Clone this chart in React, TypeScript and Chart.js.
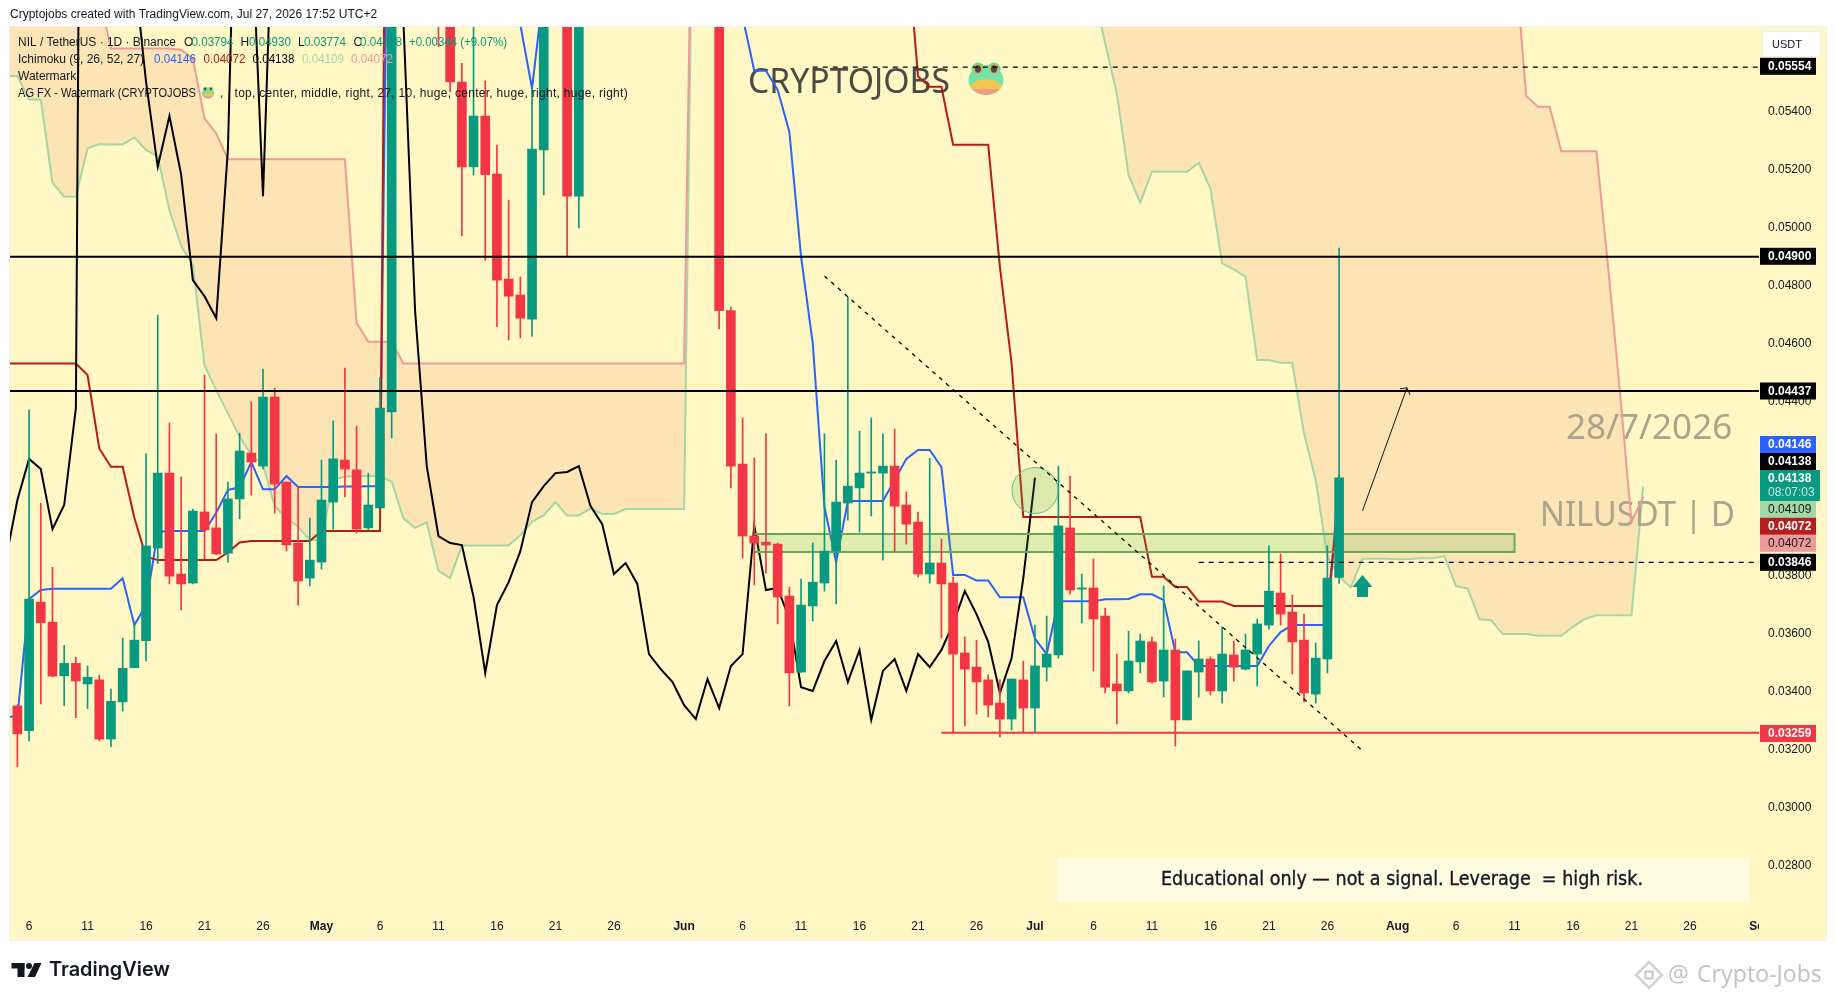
import React, { useEffect, useRef } from "react";
import { Chart, registerables } from "chart.js";

Chart.register(...registerables);

// ---- Candles, day 0 = Apr 5 ----
const opens = [
  0.03351,0.03266,0.03709,0.03640,0.03455,0.03498,0.03427,0.03441,0.03237,0.03365,
  0.03483,0.03576,0.03896,0.04154,0.03806,0.03775,0.04020,0.03965,0.03878,0.04065,
  0.04223,0.04178,0.04416,0.04123,0.03913,0.03792,0.03847,0.04054,0.04199,0.04165,
  0.03965,0.04034,0.04365,0.10500,0.09000,0.07500,0.06500,0.05883,0.05502,0.05210,
  0.05385,0.05185,0.04823,0.04768,0.04685,0.05268,0.06819,0.06072,0.05109,0.06314,
  0.06500,0.06800,0.07000,0.07200,0.07000,0.06800,0.06600,0.06400,0.06200,0.06000,
  0.05750,0.04714,0.04185,0.03937,0.03916,0.03909,0.03730,0.03468,0.03696,0.03775,
  0.03885,0.04051,0.04103,0.04154,0.04154,0.04178,0.04044,0.03985,0.03806,0.03844,
  0.03775,0.03534,0.03485,0.03441,0.03361,0.03306,0.03441,0.03344,0.03485,0.03527,
  0.03965,0.03754,0.03758,0.03661,0.03427,0.03403,0.03503,0.03572,0.03437,0.03544,
  0.03303,0.03468,0.03513,0.03403,0.03527,0.03478,0.03530,0.03630,0.03740,0.03675,
  0.03578,0.03392,0.03513,0.03794,
];
const highs = [
  0.03355,0.04372,0.04050,0.03829,0.03560,0.03520,0.03489,0.03457,0.03409,0.03585,
  0.03636,0.04220,0.04699,0.04327,0.04140,0.04030,0.04492,0.04289,0.04123,0.04292,
  0.04399,0.04513,0.04447,0.04123,0.04107,0.03999,0.04199,0.04334,0.04516,0.04316,
  0.04154,0.04484,0.11500,0.11000,0.09500,0.07800,0.06700,0.06000,0.05567,0.05750,
  0.05506,0.05285,0.05095,0.04830,0.05480,0.07000,0.06900,0.06150,0.06500,0.06700,
  0.06900,0.07200,0.07400,0.07300,0.07100,0.06900,0.06700,0.06500,0.06300,0.06100,
  0.05800,0.04726,0.04344,0.04206,0.04289,0.03913,0.03761,0.03789,0.03913,0.04289,
  0.04199,0.04761,0.04299,0.04344,0.04289,0.04306,0.04089,0.04020,0.04205,0.03927,
  0.03796,0.03589,0.03578,0.03458,0.03441,0.03444,0.03506,0.03630,0.03661,0.04178,
  0.04144,0.03806,0.03858,0.03689,0.03530,0.03609,0.03599,0.03589,0.03765,0.03582,
  0.03472,0.03575,0.03521,0.03624,0.03575,0.03599,0.03651,0.03903,0.03875,0.03734,
  0.03668,0.03568,0.03903,0.04930,
];
const lows = [
  0.03142,0.03231,0.03358,0.03451,0.03352,0.03311,0.03342,0.03231,0.03211,0.03334,
  0.03483,0.03506,0.03842,0.03772,0.03682,0.03772,0.03857,0.03872,0.03847,0.03996,
  0.04078,0.04168,0.04016,0.03885,0.03699,0.03765,0.03823,0.03961,0.04072,0.03947,
  0.03958,0.04034,0.04275,0.08500,0.07200,0.06300,0.05624,0.05469,0.04972,0.05182,
  0.04888,0.04659,0.04613,0.04620,0.04626,0.05113,0.05900,0.04900,0.04999,0.06200,
  0.06400,0.06700,0.06900,0.06900,0.06700,0.06500,0.06300,0.06100,0.05900,0.05700,
  0.04651,0.04103,0.03861,0.03768,0.03809,0.03634,0.03351,0.03468,0.03644,0.03747,
  0.03703,0.03992,0.03951,0.04006,0.03854,0.03885,0.03909,0.03796,0.03775,0.03585,
  0.03259,0.03282,0.03323,0.03313,0.03244,0.03268,0.03259,0.03259,0.03437,0.03516,
  0.03737,0.03637,0.03472,0.03396,0.03289,0.03396,0.03465,0.03430,0.03382,0.03213,
  0.03303,0.03382,0.03389,0.03361,0.03437,0.03475,0.03420,0.03616,0.03630,0.03461,
  0.03365,0.03361,0.03465,0.03774,
];
const closes = [
  0.03255,0.03720,0.03638,0.03454,0.03498,0.03437,0.03450,0.03237,0.03367,0.03481,
  0.03578,0.03903,0.04154,0.03799,0.03772,0.04023,0.03958,0.03875,0.04065,0.04230,
  0.04192,0.04416,0.04116,0.03906,0.03782,0.03854,0.04061,0.04203,0.04168,0.03961,
  0.04044,0.04378,0.10500,0.09000,0.07500,0.06500,0.05883,0.05503,0.05210,0.05385,
  0.05183,0.04819,0.04764,0.04688,0.05271,0.06819,0.06072,0.05109,0.06314,0.06500,
  0.06800,0.07000,0.07200,0.07000,0.06800,0.06600,0.06400,0.06200,0.06000,0.05716,
  0.04714,0.04178,0.03937,0.03913,0.03906,0.03727,0.03465,0.03699,0.03778,0.03885,
  0.04054,0.04109,0.04154,0.04158,0.04178,0.04040,0.03978,0.03806,0.03844,0.03772,
  0.03530,0.03478,0.03434,0.03354,0.03306,0.03444,0.03344,0.03489,0.03530,0.03972,
  0.03751,0.03758,0.03651,0.03416,0.03403,0.03506,0.03575,0.03434,0.03544,0.03303,
  0.03472,0.03513,0.03403,0.03530,0.03485,0.03544,0.03634,0.03747,0.03668,0.03572,
  0.03396,0.03516,0.03792,0.04138,
];

// ---- Ichimoku, all series begin on day -1 ----
const conversionLine = [
  0.03314,
  0.03314,0.03720,0.03751,0.03755,0.03755,0.03755,0.03755,0.03755,0.03755,0.03791,
  0.03630,0.03699,0.03952,0.03954,0.03954,0.03954,0.03954,0.04017,0.04096,0.04105,
  0.04192,0.04098,0.04098,0.04144,0.04106,0.04106,0.04106,0.04106,0.04108,0.04108,
  0.04109,0.04109,0.07279,0.07500,0.07500,0.07500,0.07500,0.07500,0.07200,0.07000,
  0.06800,0.06500,0.06000,0.05700,0.05480,0.05825,0.06100,0.06200,0.06300,0.06400,
  0.06500,0.06600,0.06700,0.06700,0.06600,0.06500,0.06400,0.06300,0.06200,0.06100,
  0.06000,0.05900,0.05728,0.05541,0.05541,0.05475,0.05331,0.04900,0.04601,0.04038,
  0.03846,0.04058,0.04058,0.04058,0.04058,0.04130,0.04203,0.04234,0.04234,0.04175,
  0.03803,0.03803,0.03784,0.03784,0.03726,0.03726,0.03726,0.03583,0.03530,0.03712,
  0.03712,0.03712,0.03712,0.03719,0.03719,0.03720,0.03736,0.03736,0.03716,0.03536,
  0.03536,0.03489,0.03489,0.03489,0.03489,0.03489,0.03489,0.03558,0.03606,0.03630,
  0.03630,0.03630,0.03630,0.04146,
];
const baseLine = [
  0.04532,
  0.04532,0.04532,0.04532,0.04532,0.04532,0.04532,0.04492,0.04239,0.04176,0.04176,
  0.04000,0.03866,0.03854,0.03854,0.03854,0.03854,0.03854,0.03854,0.03880,0.03915,
  0.03920,0.03920,0.03920,0.03920,0.03920,0.03920,0.03954,0.03954,0.03954,0.03954,
  0.03954,0.03954,0.08975,0.09000,0.09000,0.09000,0.09000,0.09000,0.09000,0.09000,
  0.09000,0.09000,0.09000,0.09000,0.09000,0.09000,0.08000,0.08000,0.08000,0.08000,
  0.08000,0.08000,0.08000,0.08000,0.08000,0.08000,0.07000,0.07000,0.07000,0.07000,
  0.07000,0.07000,0.07000,0.07000,0.07000,0.07000,0.06500,0.06500,0.06500,0.06500,
  0.06500,0.06500,0.06500,0.06500,0.06500,0.06500,0.06015,0.05521,0.05486,0.05486,
  0.05286,0.05286,0.05286,0.05286,0.04865,0.04532,0.04003,0.04003,0.04003,0.04003,
  0.04003,0.04003,0.04003,0.04003,0.04003,0.04003,0.04003,0.03797,0.03797,0.03761,
  0.03761,0.03711,0.03711,0.03711,0.03696,0.03696,0.03696,0.03696,0.03696,0.03696,
  0.03696,0.03696,0.03696,0.04072,
];
const laggingSpan = [
  0.03854,
  0.04061,0.04203,0.04168,0.03961,0.04044,0.04378,0.10500,0.09000,0.07500,0.06500,
  0.05883,0.05503,0.05210,0.05385,0.05183,0.04819,0.04764,0.04688,0.05271,0.06819,
  0.06072,0.05109,0.06314,0.06500,0.06800,0.07000,0.07200,0.07000,0.06800,0.06600,
  0.06400,0.06200,0.06000,0.05716,0.04714,0.04178,0.03937,0.03913,0.03906,0.03727,
  0.03465,0.03699,0.03778,0.03885,0.04054,0.04109,0.04154,0.04158,0.04178,0.04040,
  0.03978,0.03806,0.03844,0.03772,0.03530,0.03478,0.03434,0.03354,0.03306,0.03444,
  0.03344,0.03489,0.03530,0.03972,0.03751,0.03758,0.03651,0.03416,0.03403,0.03506,
  0.03575,0.03434,0.03544,0.03303,0.03472,0.03513,0.03403,0.03530,0.03485,0.03544,
  0.03634,0.03747,0.03668,0.03572,0.03396,0.03516,0.03792,0.04138,
];
const leadingSpanA = [
  0.05523,
  0.05523,0.05442,0.05442,0.05155,0.05107,0.05107,0.05274,0.05288,0.05287,0.05287,
  0.05311,0.05268,0.05245,0.05061,0.04937,0.04871,0.04526,0.04440,0.04360,0.04280,
  0.04216,0.04182,0.04040,0.03998,0.03969,0.03923,0.03923,0.04130,0.04142,0.04144,
  0.04144,0.04144,0.04124,0.03998,0.03965,0.03984,0.03817,0.03792,0.03904,0.03904,
  0.03904,0.03904,0.03904,0.03940,0.03986,0.04009,0.04054,0.04008,0.04008,0.04032,
  0.04013,0.04013,0.04030,0.04030,0.04030,0.04030,0.04030,0.04030,0.07000,0.07600,
  0.07600,0.07600,0.07600,0.07600,0.07600,0.07600,0.07600,0.07600,0.07600,0.07600,
  0.07600,0.07000,0.07000,0.07000,0.07000,0.07000,0.07000,0.07000,0.07000,0.07000,
  0.07000,0.06500,0.06500,0.06500,0.06500,0.06500,0.06500,0.06500,0.06500,0.06300,
  0.06150,0.06000,0.05817,0.05636,0.05463,0.05182,0.05087,0.05193,0.05193,0.05193,
  0.05193,0.05224,0.05136,0.04877,0.04856,0.04831,0.04544,0.04544,0.04534,0.04534,
  0.04291,0.04130,0.03866,0.03797,0.03760,0.03859,0.03859,0.03859,0.03857,0.03858,
  0.03860,0.03860,0.03868,0.03764,0.03756,0.03650,0.03647,0.03599,0.03599,0.03599,
  0.03593,0.03593,0.03593,0.03624,0.03651,0.03664,0.03664,0.03664,0.03664,0.04109,
];
const leadingSpanB = [
  0.06500,
  0.06500,0.06500,0.06500,0.06500,0.06500,0.06200,0.06000,0.05796,0.05618,0.05618,
  0.05618,0.05618,0.05618,0.05618,0.05613,0.05584,0.05377,0.05325,0.05236,0.05236,
  0.05236,0.05236,0.05236,0.05236,0.05236,0.05236,0.05236,0.05236,0.05236,0.04672,
  0.04607,0.04607,0.04607,0.04532,0.04532,0.04532,0.04532,0.04532,0.04532,0.04532,
  0.04532,0.04532,0.04532,0.04532,0.04532,0.04532,0.04532,0.04532,0.04532,0.04532,
  0.04532,0.04532,0.04532,0.04532,0.04532,0.04532,0.04532,0.04532,0.07050,0.08000,
  0.08000,0.08000,0.08000,0.08000,0.08000,0.08000,0.08000,0.08000,0.08000,0.08000,
  0.08000,0.08000,0.08000,0.08000,0.08000,0.08000,0.08000,0.08000,0.08000,0.08000,
  0.08000,0.08000,0.08000,0.08000,0.08000,0.08000,0.08000,0.08000,0.08000,0.08000,
  0.08000,0.08000,0.08000,0.08000,0.08000,0.08000,0.08000,0.08000,0.08000,0.08000,
  0.08000,0.08000,0.08000,0.08000,0.08000,0.08000,0.08000,0.08000,0.08000,0.08000,
  0.08000,0.08000,0.08000,0.08000,0.08000,0.08000,0.08000,0.08000,0.08000,0.08000,
  0.08000,0.08000,0.08000,0.08000,0.08000,0.08000,0.08000,0.06500,0.05947,0.05454,
  0.05417,0.05417,0.05264,0.05264,0.05264,0.05264,0.04865,0.04440,0.03986,0.04072,
];

// ---- Drawings ----
const level4900 = 0.049;
const level4437 = 0.04437;
const level5554 = 0.05554;
const level3846 = 0.03846;
const level3259 = 0.03259;
const trendDays = [69, 115];
const trendPrices = [0.04833, 0.03197];
const arrowDays = [115, 118.8];
const arrowPrices = [0.04024, 0.04448];
const zoneDays = [63, 128];
const zonePrices = [0.03944, 0.03882];
const upMarkerDay = 115;
const upMarkerPrice = 0.03761;

// ---- Axes ----
const xTickDays = [1,6,11,16,21,26,31,36,41,46,51,57,62,67,72,77,82,87,92,97,102,107,112,118,123,128,133,138,143,149];
const xTickLabels = ["6","11","16","21","26","May","6","11","16","21","26","Jun","6","11","16","21","26","Jul","6","11","16","21","26","Aug","6","11","16","21","26","Sep"];
const monthLabels = ["May", "Jun", "Jul", "Aug", "Sep"];
const yTicks = [0.028,0.03,0.032,0.034,0.036,0.038,0.04,0.042,0.044,0.046,0.048,0.05,0.052,0.054];

// ---- Tags on the price scale ----
const priceTags = [
  { text: "0.05554", bg: "#000000", fg: "#ffffff", cy: 66.3 },
  { text: "0.04900", bg: "#000000", fg: "#ffffff", cy: 256.3 },
  { text: "0.04437", bg: "#000000", fg: "#ffffff", cy: 391 },
  { text: "0.04146", bg: "#2962ff", fg: "#ffffff", cy: 444.5 },
  { text: "0.04138", bg: "#000000", fg: "#ffffff", cy: 461.5 },
  { text: "0.04109", bg: "#a5d6a7", fg: "#131722", cy: 509.5 },
  { text: "0.04072", bg: "#b71c1c", fg: "#ffffff", cy: 526.3 },
  { text: "0.04072", bg: "#ef9a9a", fg: "#131722", cy: 543.3 },
  { text: "0.03846", bg: "#000000", fg: "#ffffff", cy: 562.3 },
  { text: "0.03259", bg: "#f23645", fg: "#ffffff", cy: 733.5 },
];

const FONT = '"Liberation Sans", sans-serif';
const WM = '"Noto Sans", sans-serif';
const BG = "#fff8c4";
const CLOUD = "#fce4b4";
const UP = "#089981";
const DOWN = "#f23645";

const points = (vals: number[], start: number) => vals.map((y, k) => ({ x: start + k, y }));

function drawFrog(ctx: CanvasRenderingContext2D, cx: number, cy: number, s: number) {
  const e = (x: number, y: number, rx: number, ry: number, c: string) => {
    ctx.fillStyle = c;
    ctx.beginPath();
    ctx.ellipse(cx + x * s, cy + y * s, rx * s, ry * s, 0, 0, Math.PI * 2);
    ctx.fill();
  };
  e(-8, -11, 6.5, 6.5, "#5fd9a0");
  e(8, -11, 6.5, 6.5, "#5fd9a0");
  e(0, 0, 17.5, 15, "#6fe3a8");
  ctx.save();
  ctx.beginPath();
  ctx.ellipse(cx, cy, 17.5 * s, 15 * s, 0, 0, Math.PI * 2);
  ctx.clip();
  e(0, 12, 18, 13, "#f5c451");
  ctx.fillStyle = "#e8a088";
  ctx.fillRect(cx - 18 * s, cy + 9 * s, 36 * s, 7 * s);
  ctx.restore();
  e(-8, -11, 4.5, 4.8, "#f0a830");
  e(8, -11, 4.5, 4.8, "#f0a830");
  e(-8, -11, 3, 3.8, "#4a4a55");
  e(8, -11, 3, 3.8, "#4a4a55");
}

function placed(ctx: CanvasRenderingContext2D, y: number, segs: [string, string, number, number?][]) {
  for (const [t, c, x, w] of segs) {
    ctx.fillStyle = c;
    if (w) ctx.fillText(t, x, y, w);
    else ctx.fillText(t, x, y);
  }
}

const paintPlugin = {
  id: "paint",
  beforeDraw(chart: any) {
    const { ctx } = chart;
    ctx.save();
    ctx.fillStyle = "#ffffff";
    ctx.fillRect(0, 0, 1835, 1000);
    ctx.fillStyle = BG;
    ctx.fillRect(10, 27, 1816, 913);
    ctx.strokeStyle = "#efefef";
    ctx.lineWidth = 1;
    ctx.strokeRect(9.5, 26.5, 1817, 914);
    ctx.restore();
  },
  beforeDatasetsDraw(chart: any) {
    const { ctx } = chart;
    ctx.save();
    ctx.fillStyle = BG;
    ctx.fillRect(1759, 908, 66, 32);
    ctx.fillStyle = "#fffbe0";
    ctx.fillRect(1057, 858, 692, 44);
    ctx.restore();
  },
  beforeDatasetDraw(chart: any, args: any) {
    if (args.index !== 1) return;
    const { ctx } = chart;
    ctx.save();
    ctx.textBaseline = "alphabetic";
    ctx.textAlign = "left";
    ctx.fillStyle = "#4a4a44";
    ctx.font = `35px ${WM}`;
    ctx.fillText("CRYPTOJOBS", 748, 93, 202);
    drawFrog(ctx, 986, 80, 1);
    ctx.fillStyle = "#a9a48c";
    ctx.fillText("28/7/2026", 1566, 439, 168);
    ctx.fillText("NILUSDT | D", 1540, 526, 195);
    ctx.restore();
  },
  afterDatasetsDraw(chart: any) {
    const { ctx, scales } = chart;
    const X = scales.x, Y = scales.y;
    ctx.save();
    // arrow head
    const ax = X.getPixelForValue(arrowDays[1]);
    const ay = Y.getPixelForValue(arrowPrices[1]);
    ctx.strokeStyle = "#131722";
    ctx.lineWidth = 1;
    ctx.beginPath();
    ctx.moveTo(ax - 7, ay + 1);
    ctx.lineTo(ax, ay);
    ctx.lineTo(ax + 3, ay + 7);
    ctx.stroke();
    // up marker
    const ux = X.getPixelForValue(upMarkerDay);
    const uy = Y.getPixelForValue(upMarkerPrice);
    ctx.fillStyle = UP;
    ctx.beginPath();
    ctx.moveTo(ux, uy - 12);
    ctx.lineTo(ux + 10, uy);
    ctx.lineTo(ux + 5.5, uy);
    ctx.lineTo(ux + 5.5, uy + 10);
    ctx.lineTo(ux - 5.5, uy + 10);
    ctx.lineTo(ux - 5.5, uy);
    ctx.lineTo(ux - 10, uy);
    ctx.closePath();
    ctx.fill();
    // note
    ctx.fillStyle = "#131722";
    ctx.strokeStyle = "#131722";
    ctx.lineWidth = 0.35;
    ctx.font = `19.5px "DejaVu Sans", sans-serif`;
    ctx.textAlign = "left";
    ctx.textBaseline = "middle";
    const note = "Educational only — not a signal. Leverage  = high risk.";
    ctx.fillText(note, 1161, 880, 482);
    ctx.strokeText(note, 1161, 880, 482);
    ctx.restore();
  },
  afterDraw(chart: any) {
    const { ctx } = chart;
    ctx.save();
    ctx.textBaseline = "middle";
    ctx.textAlign = "left";
    // header
    ctx.font = `12px ${FONT}`;
    ctx.fillStyle = "#131722";
    ctx.fillText("Cryptojobs created with TradingView.com, Jul 27, 2026 17:52 UTC+2", 10, 15, 369);
    // legend
    const T = "#131722";
    ctx.font = `12px ${FONT}`;
    placed(ctx, 42.5, [
      ["NIL / TetherUS · 1D · Binance", T, 18, 158], ["O", T, 184], ["0.03794", UP, 191.5, 42],
      ["H", T, 240.5], ["0.04930", UP, 249, 42], ["L", T, 298], ["0.03774", UP, 304, 42],
      ["C", T, 353.5], ["0.04138", UP, 360, 42], ["+0.00344 (+9.07%)", UP, 409, 98],
    ]);
    placed(ctx, 59.5, [
      ["Ichimoku (9, 26, 52, 27)", T, 18, 129], ["0.04146", "#2962ff", 154, 42], ["0.04072", "#b71c1c", 203.5, 42],
      ["0.04138", "#000000", 252.5, 42], ["0.04109", "#a5d6a7", 302, 42], ["0.04072", "#ef9a9a", 351, 42],
    ]);
    ctx.fillStyle = T;
    ctx.fillText("Watermark", 18, 76.5);
    ctx.fillText("AG FX - Watermark (CRYPTOJOBS", 18, 93.5, 178);
    drawFrog(ctx, 208, 93, 0.36);
    ctx.fillStyle = T;
    (ctx as any).letterSpacing = "0.3px";
    ctx.fillText(", , top, center, middle, right, 27, 10, huge, center, huge, right, huge, right)", 220, 93.5, 408);
    (ctx as any).letterSpacing = "0px";
    // price tags
    for (const t of priceTags) {
      ctx.fillStyle = t.bg;
      ctx.fillRect(1760, t.cy - 8.5, 56, 17);
      ctx.fillStyle = t.fg;
      ctx.font = t.fg === "#ffffff" ? `bold 12px ${FONT}` : `12px ${FONT}`;
      ctx.fillText(t.text, 1768, t.cy + 0.5);
    }
    // last price with countdown
    ctx.fillStyle = UP;
    ctx.fillRect(1760, 470, 60, 31);
    ctx.fillStyle = "#ffffff";
    ctx.font = `bold 12px ${FONT}`;
    ctx.fillText("0.04138", 1768, 478.5);
    ctx.fillStyle = "#cfe9e2";
    ctx.font = `12px ${FONT}`;
    ctx.fillText("08:07:03", 1768, 493);
    // currency box
    ctx.fillStyle = "#ffffff";
    ctx.strokeStyle = "#eeeeee";
    ctx.beginPath();
    ctx.roundRect(1762.5, 31.5, 58, 25, 3);
    ctx.fill();
    ctx.stroke();
    ctx.fillStyle = T;
    ctx.font = `11px ${FONT}`;
    ctx.fillText("USDT", 1772, 44.5);
    // logo
    ctx.fillStyle = "#131722";
    ctx.fillRect(11.5, 963, 13, 5.5);
    ctx.fillRect(17.5, 963, 7, 14);
    ctx.beginPath();
    ctx.arc(29, 966, 3, 0, Math.PI * 2);
    ctx.fill();
    ctx.beginPath();
    ctx.moveTo(34.5, 963);
    ctx.lineTo(41.5, 963);
    ctx.lineTo(35, 977);
    ctx.lineTo(27.5, 977);
    ctx.closePath();
    ctx.fill();
    ctx.font = `600 20px Inter, sans-serif`;
    ctx.fillText("TradingView", 49, 970, 121);
    // bottom-right credit
    ctx.strokeStyle = "#d0d0d0";
    ctx.lineWidth = 2.5;
    ctx.beginPath();
    ctx.moveTo(1649, 962);
    ctx.lineTo(1662, 975);
    ctx.lineTo(1649, 988);
    ctx.lineTo(1636, 975);
    ctx.closePath();
    ctx.stroke();
    ctx.strokeRect(1645.5, 971.5, 7, 7);
    ctx.fillStyle = "#c4c4c4";
    ctx.font = `23px ${WM}`;
    ctx.fillText("@", 1668, 975);
    ctx.fillText("Crypto-Jobs", 1697, 975, 130);
    ctx.restore();
  },
};

const n = (vals: number[], start: number, color: string, width: number, order: number, extra: any = {}) => ({
  type: "line" as const,
  data: points(vals, start),
  borderColor: color,
  borderWidth: width,
  pointRadius: 0,
  tension: 0,
  fill: false,
  order,
  ...extra,
});

const seg = (xs: number[], ys: number[], color: string, width: number, dash: number[] = []) => ({
  type: "line" as const,
  data: xs.map((x, i) => ({ x, y: ys[i] })),
  borderColor: color,
  borderWidth: width,
  borderDash: dash,
  pointRadius: 0,
  tension: 0,
  fill: false,
  order: 10,
});

export default function App() {
  const ref = useRef<HTMLCanvasElement | null>(null);
  useEffect(() => {
    const up = closes.map((c, i) => c >= opens[i]);
    const colors = up.map((u) => (u ? UP : DOWN));
    const xMin = -0.632;
    const xMax = 148.9;
    const datasets: any[] = [
      n(leadingSpanA, -1, "#a5d6a7", 2, 50, { fill: { target: 1, above: CLOUD, below: CLOUD } }),
      n(leadingSpanB, -1, "#ef9a9a", 2, 49),
      n(laggingSpan, -1, "#000000", 2, 40),
      n(baseLine, -1, "#b71c1c", 2, 41),
      n(conversionLine, -1, "#2962ff", 2, 42),
      seg([zoneDays[0], zoneDays[1]], [zonePrices[0], zonePrices[0]], "rgba(0,0,0,0)", 0),
      seg([zoneDays[0], zoneDays[1]], [zonePrices[1], zonePrices[1]], "rgba(0,0,0,0)", 0),
      seg(
        [zoneDays[0], zoneDays[1], zoneDays[1], zoneDays[0]],
        [zonePrices[0], zonePrices[0], zonePrices[1], zonePrices[1]],
        "#66ab58",
        2,
      ),
      {
        type: "bar",
        grouped: false,
        barThickness: 1,
        data: highs.map((h, i) => ({ x: i, y: [lows[i], h] })),
        backgroundColor: colors,
        borderWidth: 0,
        order: 31,
      },
      {
        type: "bar",
        grouped: false,
        barThickness: 9,
        data: opens.map((o, i) => ({ x: i, y: [Math.min(o, closes[i]), Math.max(o, closes[i])] })),
        backgroundColor: colors,
        borderWidth: 0,
        order: 30,
      },
      seg([xMin, xMax], [level4900, level4900], "#000000", 2),
      seg([xMin, xMax], [level4437, level4437], "#000000", 2),
      seg([68, xMax], [level5554, level5554], "#000000", 1.3, [5, 5]),
      seg([101, xMax], [level3846, level3846], "#000000", 1.3, [5, 5]),
      seg([79, xMax], [level3259, level3259], "#f23645", 2),
      seg(trendDays, trendPrices, "#000000", 1.3, [4, 5]),
      seg(arrowDays, arrowPrices, "#131722", 1),
      {
        type: "bubble",
        data: [{ x: 87, y: 0.04094, r: 23 }],
        backgroundColor: "rgba(76,175,80,0.2)",
        borderColor: "#5fbf9a",
        borderWidth: 1,
        order: 11,
      },
    ];
    datasets[5].fill = { target: 6, above: "rgba(76,175,80,0.17)", below: "rgba(76,175,80,0.17)" };
    datasets[5].order = 36;
    datasets[6].order = 36;
    datasets[7].order = 35;

    const chart = new Chart(ref.current as HTMLCanvasElement, {
      type: "line",
      data: { datasets },
      plugins: [paintPlugin],
      options: {
        animation: false,
        responsive: false,
        devicePixelRatio: 1,
        layout: { autoPadding: false, padding: { left: 10, right: 9, top: 27, bottom: 60 } },
        plugins: { legend: { display: false }, tooltip: { enabled: false } },
        scales: {
          x: {
            type: "linear",
            min: xMin,
            max: xMax,
            offset: false,
            grid: { display: false, drawTicks: false },
            border: { display: false },
            afterBuildTicks: (s: any) => {
              s.ticks = xTickDays.map((value) => ({ value }));
            },
            afterFit: (s: any) => {
              s.height = 33;
              s.paddingLeft = 0;
              s.paddingRight = 0;
            },
            ticks: {
              autoSkip: false,
              maxRotation: 0,
              padding: 12,
              color: "#131722",
              font: (c: any) => {
                const l = c.tick ? xTickLabels[xTickDays.indexOf(c.tick.value)] : "";
                return { family: FONT, size: 12, weight: monthLabels.includes(l) ? "bold" : "normal" };
              },
              callback: (v: any) => xTickLabels[xTickDays.indexOf(Number(v))],
            },
          },
          y: {
            type: "linear",
            position: "right",
            min: 0.02658,
            max: 0.05692,
            grid: { display: false, drawTicks: false },
            border: { display: false },
            afterBuildTicks: (s: any) => {
              s.ticks = yTicks.map((value) => ({ value }));
            },
            afterFit: (s: any) => {
              s.width = 67;
              s.paddingTop = 0;
              s.paddingBottom = 0;
            },
            ticks: {
              padding: 9,
              color: "#131722",
              font: { family: FONT, size: 12 },
              callback: (v: any) => Number(v).toFixed(5),
            },
          },
        },
      },
    } as any);
    return () => chart.destroy();
  }, []);
  return (
    <div style={{ position: "absolute", left: 0, top: 0, width: 1835, height: 1000 }}>
      <canvas ref={ref} width={1835} height={1000} style={{ display: "block" }} />
    </div>
  );
}
